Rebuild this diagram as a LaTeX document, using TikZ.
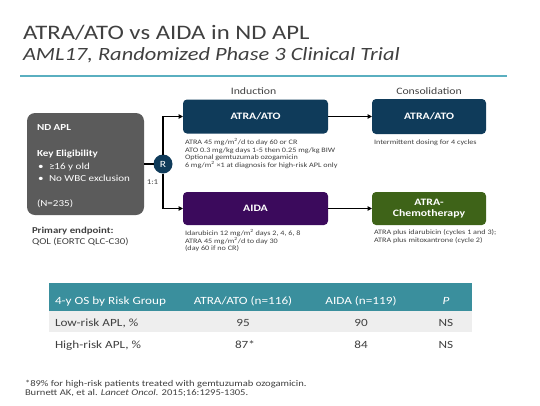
\documentclass[tikz,border=0pt]{standalone}
\usepackage{fontspec}
\setmainfont[FakeStretch=1.2]{Carlito}
\usetikzlibrary{arrows.meta}
\definecolor{navy}{HTML}{0F3B5A}
\definecolor{purp}{HTML}{3B0A5C}
\definecolor{grn}{HTML}{3E6318}
\definecolor{boxgray}{HTML}{5B5B5B}
\definecolor{txtgray}{HTML}{404040}
\definecolor{tealhd}{HTML}{3A8F9D}
\definecolor{tealln}{HTML}{5AAFC0}
\definecolor{rowgray}{HTML}{EEEEEE}
\begin{document}
\begin{tikzpicture}[x=1pt,y=-1pt,
  every node/.style={inner sep=0pt, outer sep=0pt},
  armbox/.style={rounded corners=4pt, text=white, font=\fontsize{9.8}{10.8}\selectfont\bfseries, align=center},
  smalltxt/.style={anchor=north west, align=left, text=txtgray, font=\fontsize{6.8}{7.6}\selectfont},
  midtxt/.style={anchor=base west, text=white, font=\fontsize{9.2}{10}\selectfont},
  phase/.style={text=txtgray, font=\fontsize{9.8}{11}\selectfont},
  conn/.style={line width=1.4pt, black},
  arr/.style={conn, -{Triangle[length=4.5pt,width=4.5pt]}},
  tabtxt/.style={anchor=base, text=txtgray, font=\fontsize{11}{13}\selectfont},
  tabhd/.style={anchor=base, text=white, font=\fontsize{11}{13}\selectfont},
  foot/.style={anchor=base west, text=txtgray, font=\fontsize{8.8}{9.5}\selectfont}]
\useasboundingbox (0,0) rectangle (540,405);
% titles
\node[anchor=base west, text=txtgray, font=\fontsize{20.6}{24}\selectfont] (title) at (23,39) {ATRA/ATO vs AIDA in ND APL};
\node[anchor=base west, text=txtgray, font=\fontsize{18.7}{22}\selectfont\itshape] (sub) at (23,60.5) {AML17, Randomized Phase 3 Clinical Trial};
\coordinate (l1) at (20,76); \coordinate (l2) at (507,76);
\draw[tealln, line width=1.2pt] (l1) -- (l2);
% phase labels
\node[phase] (indl) at (253.5,91) {Induction};
\node[phase] (consl) at (429,91) {Consolidation};
% boxes
\node[armbox, fill=navy, minimum width=145pt, minimum height=34pt] (ind1) at (255.5,116.5) {ATRA/ATO};
\node[armbox, fill=navy, minimum width=114pt, minimum height=35pt] (cons1) at (429,116.5) {ATRA/ATO};
\node[armbox, fill=purp, minimum width=145pt, minimum height=33pt] (aida) at (255.5,208.5) {AIDA};
\node[armbox, fill=grn, minimum width=114pt, minimum height=33pt] (chemo) at (429,208.5) {ATRA-\\Chemotherapy};
% small texts
\node[smalltxt] (indtxt) at (185,138.5) {ATRA 45 mg/m\textsuperscript{2}/d to day 60 or CR\\ATO 0.3 mg/kg days 1-5 then 0.25 mg/kg BIW\\Optional gemtuzumab ozogamicin\\6 mg/m\textsuperscript{2} ×1 at diagnosis for high-risk APL only};
\node[smalltxt] (constxt) at (374,139.5) {Intermittent dosing for 4 cycles};
\node[smalltxt] (aidatxt) at (185,229.5) {Idarubicin 12 mg/m\textsuperscript{2} days 2, 4, 6, 8\\ATRA 45 mg/m\textsuperscript{2}/d to day 30\\(day 60 if no CR)};
\node[smalltxt] (chemotxt) at (374,229.5) {ATRA plus idarubicin (cycles 1 and 3);\\ATRA plus mitoxantrone (cycle 2)};
% ND APL box
\node[fill=boxgray, rounded corners=8pt, minimum width=117pt, minimum height=102pt] (nd) at (85.5,164) {};
\node[midtxt, font=\fontsize{9.2}{10}\selectfont\bfseries] (ndt) at (37,130.5) {ND APL};
\node[midtxt, font=\fontsize{9.2}{10}\selectfont\bfseries] (key) at (37,156.5) {Key Eligibility};
\node[midtxt] (b1) at (38,169.5) {•};
\node[midtxt] (b1t) at (49,169.5) {≥16 y old};
\node[midtxt] (b2) at (38,181.5) {•};
\node[midtxt] (b2t) at (49,181.5) {No WBC exclusion};
\node[midtxt] (n) at (37,206.5) {(N=235)};
\node[anchor=base west, text=txtgray, font=\fontsize{9}{10}\selectfont\bfseries] (pe) at (32,233.5) {Primary endpoint:};
\node[anchor=base west, text=txtgray, font=\fontsize{9}{10}\selectfont] (qol) at (32,244.5) {QOL (EORTC QLC-C30)};
% randomization
\node[circle, fill=navy, minimum size=19pt, text=white, font=\fontsize{9.5}{10}\selectfont] (R) at (163,164) {R};
\node[text=txtgray, font=\fontsize{7.4}{9}\selectfont] (ratio) at (152.5,182) {1:1};
\draw[conn] (nd.east) -- (R.west);
\draw[arr] (R.north) |- (ind1.west);
\draw[arr] (R.south) |- (aida.west);
\draw[arr] (ind1.east) -- (cons1.west);
\draw[arr] (aida.east) -- (chemo.west);
% table
\fill[tealhd] (49,283) rectangle (472,311);
\fill[rowgray] (49,311) rectangle (472,332);
\node[tabhd, anchor=base west] (h1) at (55,304.5) {4-y OS by Risk Group};
\node[tabhd] (h2) at (243,304.5) {ATRA/ATO (n=116)};
\node[tabhd] (h3) at (361,304.5) {AIDA (n=119)};
\node[tabhd, font=\fontsize{11}{13}\selectfont\itshape] (h4) at (446,304.5) {P};
\node[tabtxt, anchor=base west] (r1) at (55,326) {Low-risk APL, \%};
\node[tabtxt] (r1a) at (243,326) {95};
\node[tabtxt] (r1b) at (361,326) {90};
\node[tabtxt] (r1c) at (446,326) {NS};
\node[tabtxt, anchor=base west] (r2) at (55,348) {High-risk APL, \%};
\node[tabtxt] (r2a) at (245,348) {87*};
\node[tabtxt] (r2b) at (361,348) {84};
\node[tabtxt] (r2c) at (446,348) {NS};
% footnotes
\node[foot] (f1) at (25,386) {*89\% for high-risk patients treated with gemtuzumab ozogamicin.};
\node[foot] (f2) at (25,395.5) {Burnett AK, et al. \textit{Lancet Oncol.} 2015;16:1295-1305.};
\end{tikzpicture}
\end{document}
